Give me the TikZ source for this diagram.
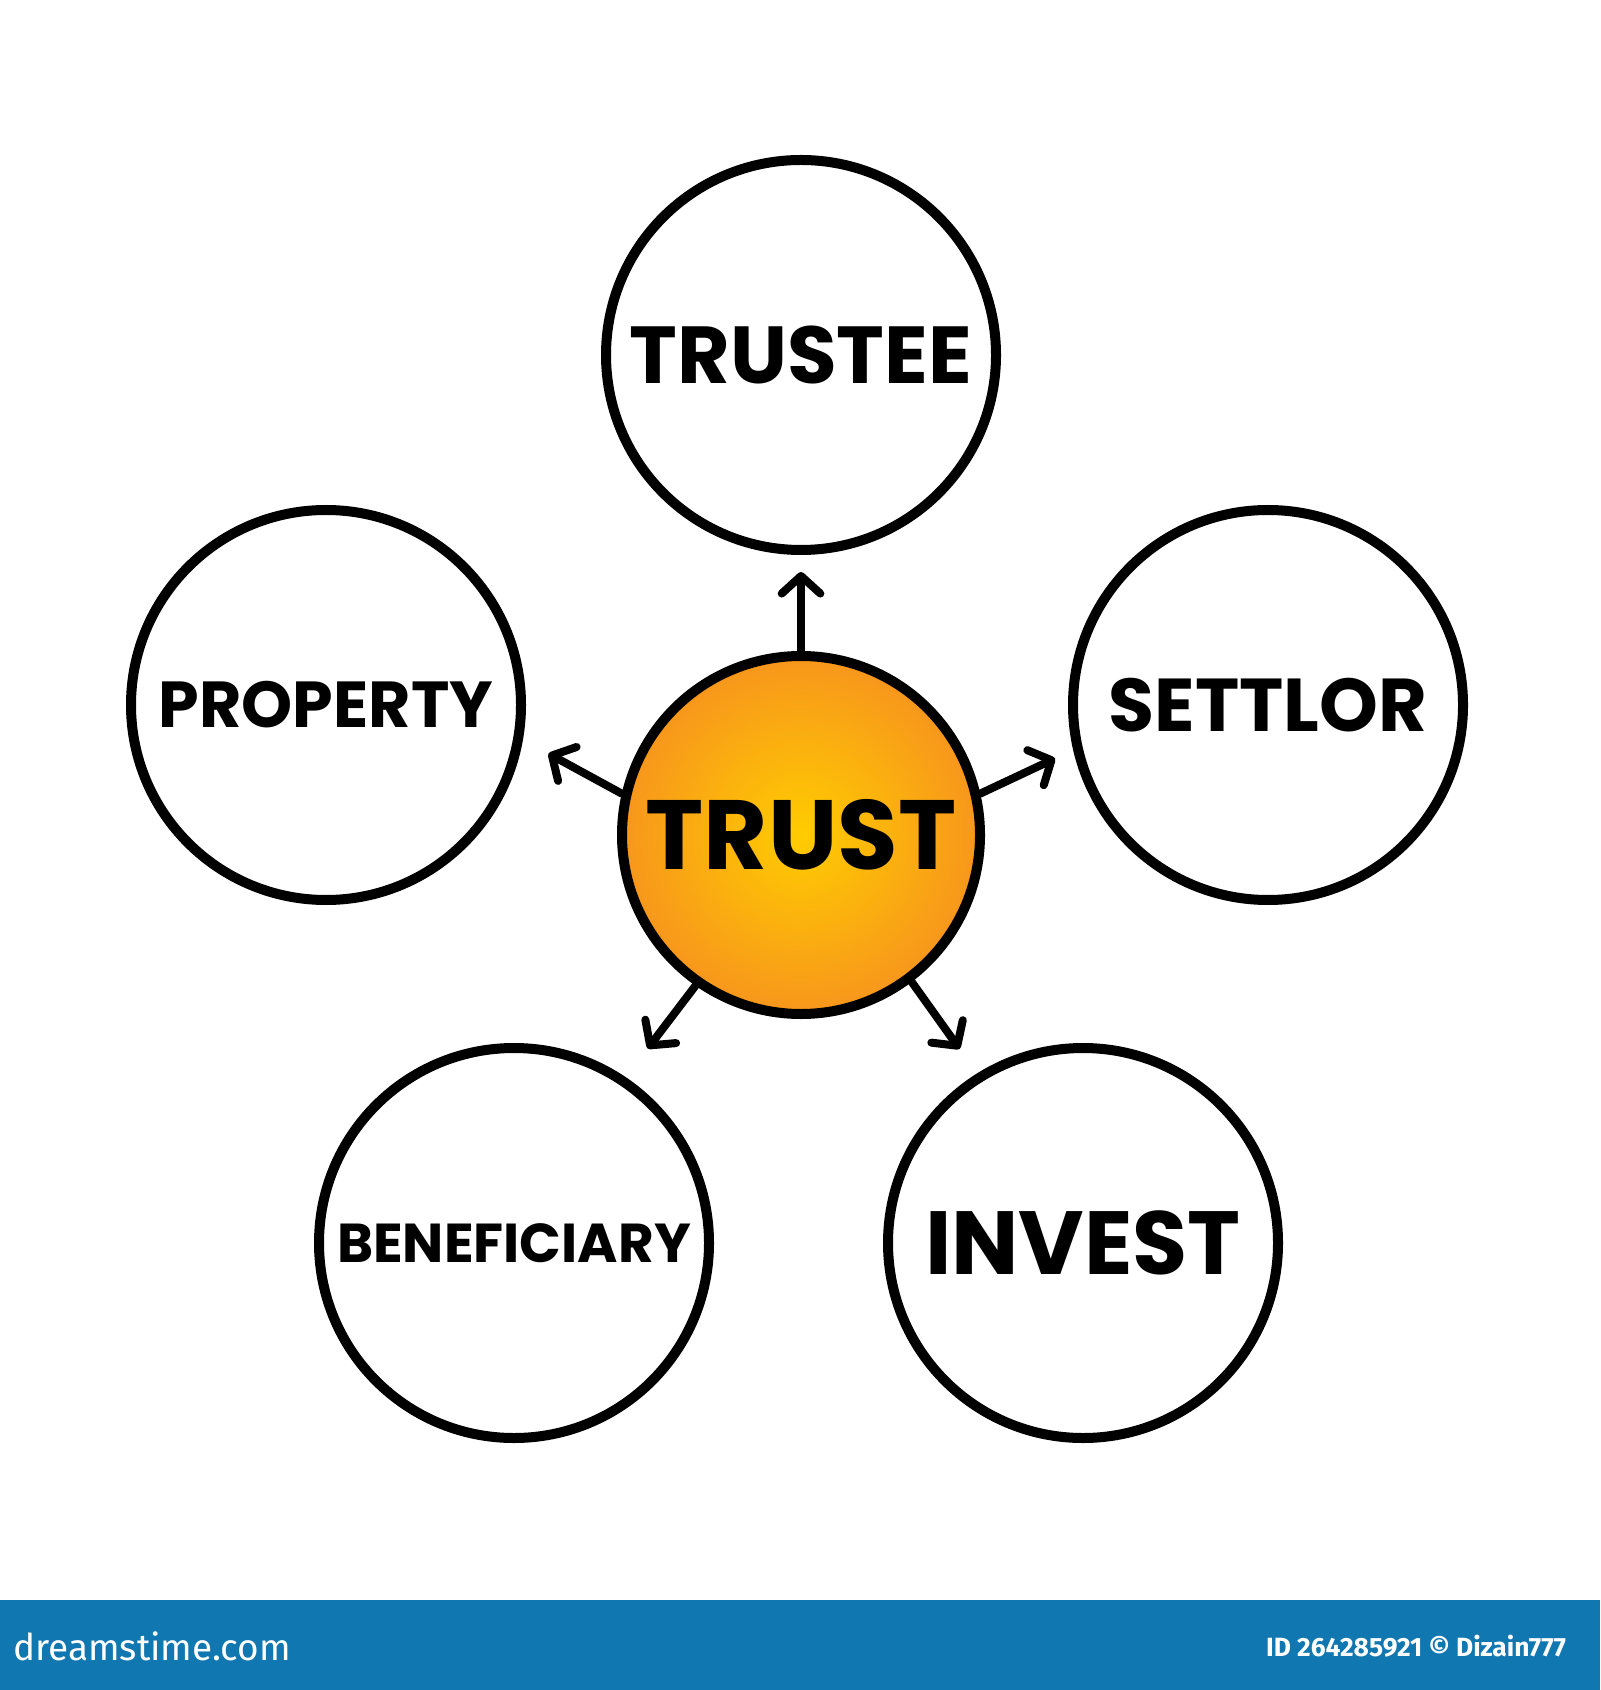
\documentclass[tikz,border=0pt]{standalone}
\usepackage{fontspec}
\setmainfont{Poppins}
\newfontfamily\barfont{Fira Sans}
\usetikzlibrary{arrows.meta, positioning}
\definecolor{trustyellow}{HTML}{FFCC00}
\definecolor{trustorange}{HTML}{F7961C}
\definecolor{barblue}{HTML}{1177B0}
\tikzset{
  >={Straight Barb[length=5pt, width=11pt, round]}, % open marker-like arrow heads
  node distance=4.8cm, % distance from TRUST up to TRUSTEE
  on grid, % node distances are measured centre to centre
  link/.style={->, draw, line width=0.8mm, line cap=round}, % the five arrows out of TRUST
}
\begin{document}
\begin{tikzpicture} [bubble/.style={circle, draw, line width=1mm, minimum size=3.9cm, inner sep=0pt, fill=white},
                     hub/.style={bubble, minimum size=3.58cm, shading=radial, inner color=trustyellow, outer color=trustorange}]
    \useasboundingbox (0,0) rectangle (16,-16.9);
    \node[hub, font=\fontsize{28}{33}\selectfont\bfseries] (TRUST) at (8.01,-8.35) {TRUST};
    \node[bubble, above=of TRUST, font=\fontsize{23}{27}\selectfont\bfseries] (TRUSTEE) {TRUSTEE};
    \node[bubble, above left=1.3cm and 4.75cm of TRUST, font=\fontsize{18.5}{22}\selectfont\bfseries] (PROPERTY) {PROPERTY};
    \node[bubble, above right=1.3cm and 4.67cm of TRUST, font=\fontsize{21.3}{25}\selectfont\bfseries] (SETTLOR) {SETTLOR};
    \node[bubble, below left=4.08cm and 2.87cm of TRUST, font=\fontsize{15.6}{19}\selectfont\bfseries] (BENEFICIARY) {BENEFICIARY};
    \node[bubble, below right=4.08cm and 2.82cm of TRUST, font=\fontsize{25.5}{30}\selectfont\bfseries] (INVEST) {INVEST};

    \path (TRUST.90) edge[link, shorten >=0.17cm] (TRUSTEE.-90)
          (TRUST.167) edge[link, shorten >=0.29cm] (PROPERTY.-10)
          (TRUST.13) edge[link, shorten >=0.2cm] (SETTLOR.193)
          (TRUST.235) edge[link, shorten >=0.36cm] (BENEFICIARY.56)
          (TRUST.-53) edge[link, shorten >=0.3cm] (INVEST.122)
          ;

    \fill[barblue] (0,-16) rectangle (16,-16.9);
    \node[text=white, font=\barfont\fontsize{10.5}{12}\selectfont] (SITE) at (1.52,-16.46) {dreamstime.com};
    \node[text=white, font=\barfont\fontsize{7.5}{9}\selectfont\bfseries] (IMAGEID) at (14.16,-16.46) {ID 264285921 © Dizain777};
  \end{tikzpicture}
\end{document}
